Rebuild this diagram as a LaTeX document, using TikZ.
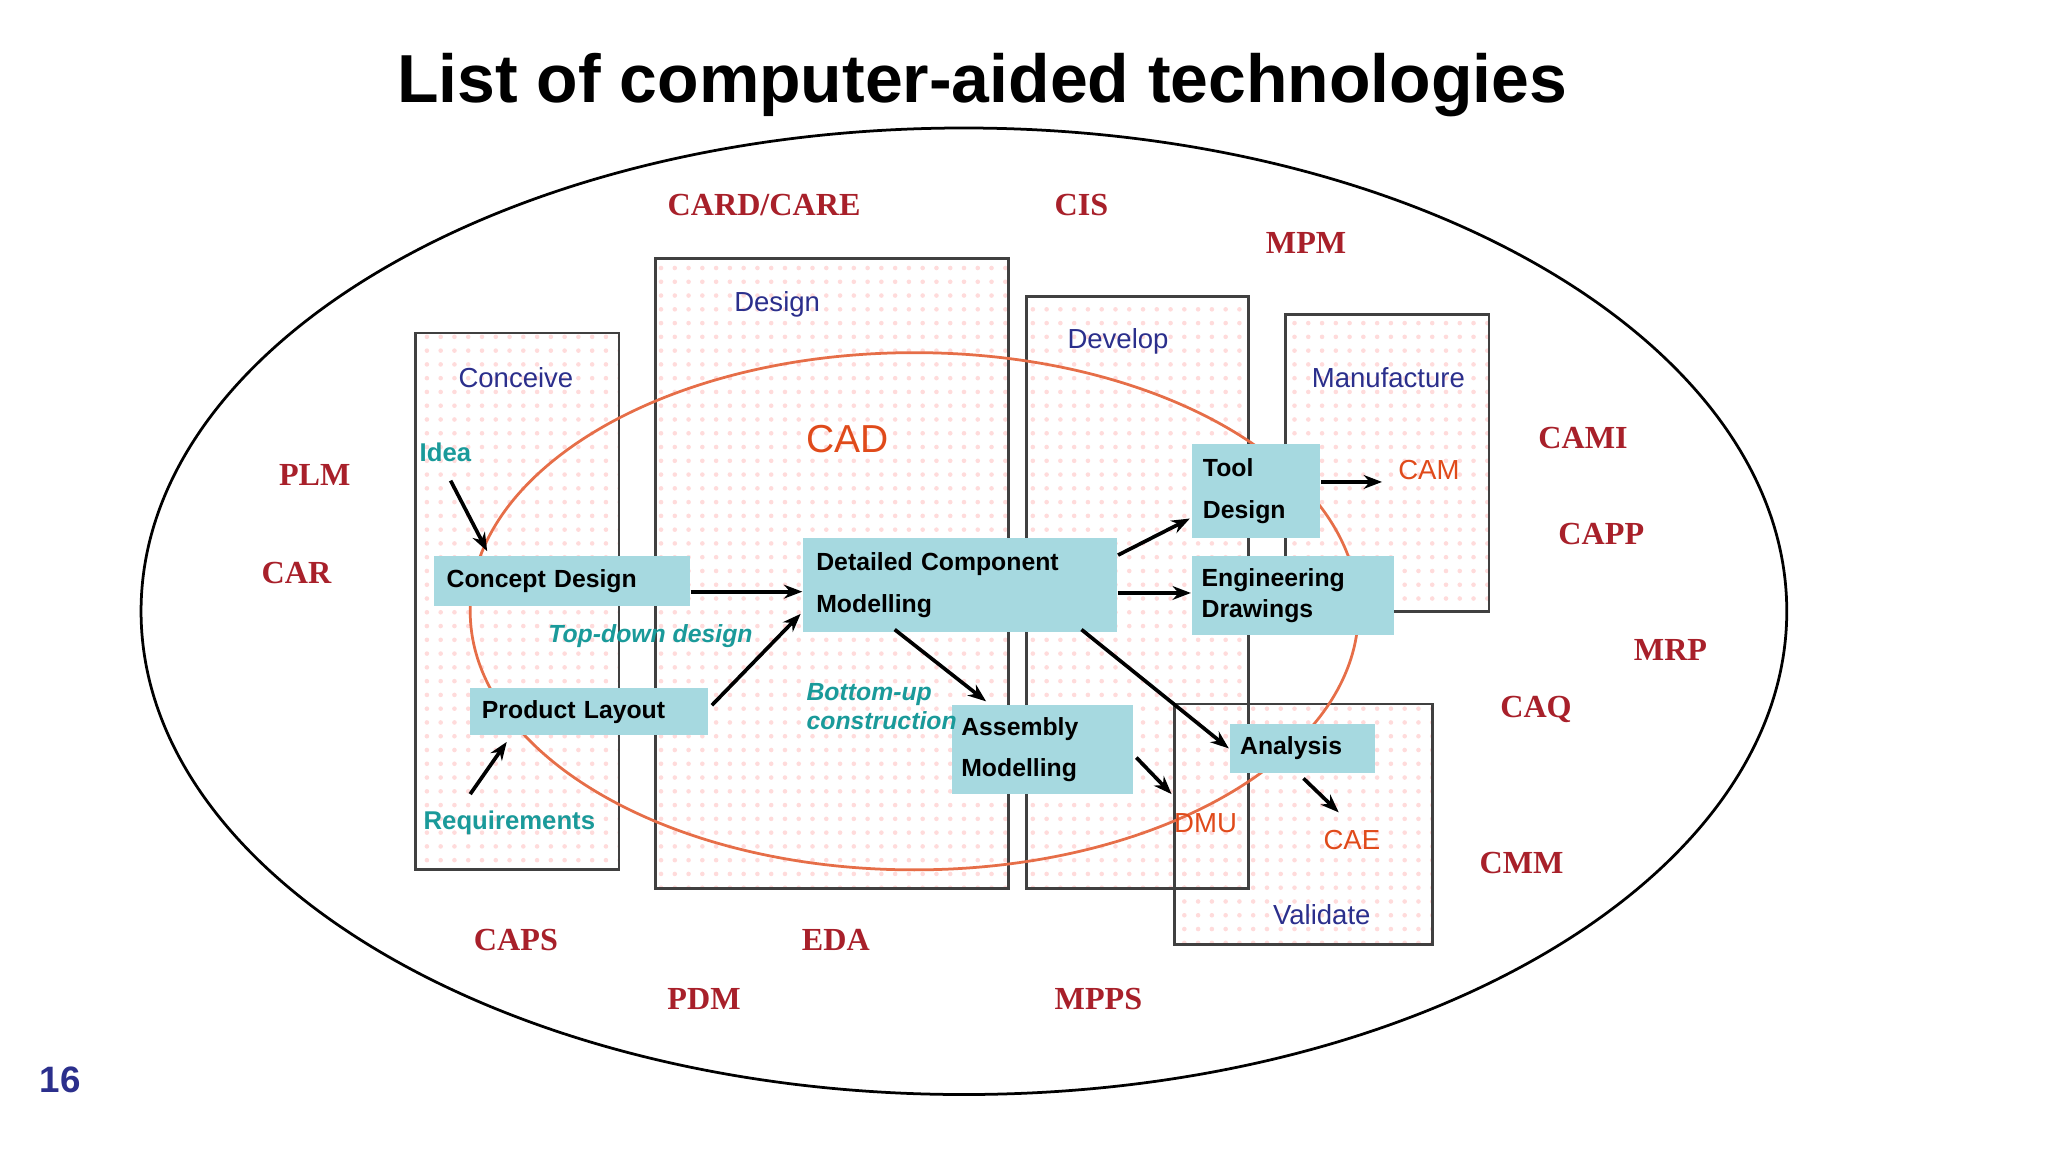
\documentclass[tikz,border=0pt]{standalone}
\usepackage{fontspec}
\setmainfont{Liberation Sans}
\newfontfamily\serifb{Liberation Serif}
\usetikzlibrary{patterns,arrows.meta}
\definecolor{acr}{HTML}{A8202A}
\definecolor{lbl}{HTML}{2B2F8C}
\definecolor{tealtxt}{HTML}{1A9A9A}
\definecolor{boxfill}{HTML}{A6D9E0}
\definecolor{cadred}{HTML}{E04A1A}
\tikzset{
 acro/.style={text=acr,font=\serifb\bfseries\fontsize{7}{8}\selectfont},
 stage/.style={draw=black!75,line width=0.6pt,pattern=dots,pattern color=red!14},
 stlbl/.style={text=lbl,font=\fontsize{6}{7}\selectfont},
 tbox/.style={fill=boxfill,font=\bfseries\fontsize{5.4}{9}\selectfont,align=left,inner sep=0pt},
 teal/.style={text=tealtxt,font=\bfseries\fontsize{5.6}{7}\selectfont},
 redt/.style={text=cadred,font=\fontsize{6}{7}\selectfont},
 arr/.style={-{Stealth[length=4pt]},line width=0.8pt},
}
\begin{document}
\begin{tikzpicture}[x=0.1mm,y=-0.1mm]
\useasboundingbox (0,0) rectangle (1568,880);
\fill[white] (0,0) rectangle (1568,880);
\node[font=\bfseries\fontsize{14.8}{16}\selectfont] (title) at (752,65) {List of computer-aided technologies};
\node[text=lbl,font=\bfseries\fontsize{8}{9}\selectfont] (pg) at (46,827) {16};
\draw[line width=0.6pt] (738,468) ellipse [x radius=630, y radius=370];
% stage boxes
\draw[stage] (318,255) rectangle (474,666);
\draw[stage] (502,198) rectangle (772,680);
\draw[stage] (899,539) rectangle (1097,723);
\draw[stage] (786,227) rectangle (956,680);
\draw[stage] (984,241) rectangle (1140,468);
\node[stlbl] (conceive) at (395,289) {Conceive};
\node[stlbl] (design) at (595,233) {Design};
\node[stlbl] (develop) at (856,261) {Develop};
\node[stlbl] (manuf) at (1063,289) {Manufacture};
\node[stlbl] (valid) at (1012,700) {Validate};
\draw[cadred!80,line width=0.6pt] (700,468) ellipse [x radius=340, y radius=198];
\node[redt,font=\fontsize{8.5}{10}\selectfont] (cad) at (649,336) {CAD};
% process boxes
\node[tbox,minimum width=196*0.1mm,minimum height=38*0.1mm,text width=176*0.1mm] (cd) at (430,445) {Concept Design};
\node[tbox,minimum width=182*0.1mm,minimum height=36*0.1mm,text width=164*0.1mm] (pl) at (451,545) {Product Layout};
\node[tbox,minimum width=240*0.1mm,minimum height=72*0.1mm,text width=220*0.1mm] (dcm) at (735,448) {Detailed Component\\Modelling};
\node[tbox,minimum width=98*0.1mm,minimum height=72*0.1mm,text width=82*0.1mm] (td) at (962,376) {Tool\\Design};
\node[tbox,minimum width=155*0.1mm,minimum height=60*0.1mm,text width=140*0.1mm,font=\bfseries\fontsize{5.4}{6.6}\selectfont] (ed) at (990,456) {Engineering\\Drawings};
\node[tbox,minimum width=139*0.1mm,minimum height=68*0.1mm,text width=124*0.1mm] (am) at (798,574) {Assembly\\Modelling};
\node[tbox,minimum width=111*0.1mm,minimum height=38*0.1mm,text width=95*0.1mm] (an) at (997,573) {Analysis};
% teal labels
\node[teal] (idea) at (341,346) {Idea};
\node[teal] (req) at (390,630) {Requirements};
\node[teal,font=\bfseries\itshape\fontsize{5.4}{7}\selectfont] (tdd) at (498,487) {Top-down design};
\node[teal,font=\bfseries\itshape\fontsize{5.4}{6.4}\selectfont,align=left] (buc) at (675,541) {Bottom-up\\construction};
\node[redt] (cam) at (1094,360) {CAM};
\node[redt] (dmu) at (923,630) {DMU};
\node[redt] (cae) at (1035,643) {CAE};
% arrow end points
\coordinate (ideaS) at (345,368);
\coordinate (cdN) at (373,422);
\coordinate (reqN) at (360,608);
\coordinate (plS) at (388,568);
\coordinate (plE) at (545,540);
\coordinate (dcmSW) at (613,470);
\coordinate (dcmNE) at (856,425);
\coordinate (tdW) at (911,397);
\coordinate (dcmS1) at (685,482);
\coordinate (amN) at (755,537);
\coordinate (dcmS2) at (828,482);
\coordinate (amE) at (870,580);
\coordinate (dmuN) at (897,608);
\coordinate (anS) at (998,596);
\coordinate (caeN) at (1025,622);
\draw[arr] (ideaS) -- (cdN);
\draw[arr] (reqN) -- (plS);
\draw[arr] (cd.east|-0,453) -- (dcm.west|-0,453);
\draw[arr] (plE) -- (dcmSW);
\draw[arr] (dcmNE) -- (tdW);
\draw[arr] (dcm.east|-0,454) -- (ed.west|-0,454);
\draw[arr] (dcmS1) -- (amN);
\draw[arr] (dcmS2) -- (an.west);
\draw[arr] (td.east|-0,369) -- (cam.west|-0,369);
\draw[arr] (amE) -- (dmuN);
\draw[arr] (anS) -- (caeN);
% acronyms
\node[acro] (card) at (585,157) {CARD/CARE};
\node[acro] (cis) at (828,157) {CIS};
\node[acro] (mpm) at (1000,186) {MPM};
\node[acro] (cami) at (1212,335) {CAMI};
\node[acro] (capp) at (1226,409) {CAPP};
\node[acro] (mrp) at (1279,498) {MRP};
\node[acro] (caq) at (1176,543) {CAQ};
\node[acro] (cmm) at (1165,661) {CMM};
\node[acro] (plm) at (241,364) {PLM};
\node[acro] (car) at (227,439) {CAR};
\node[acro] (caps) at (395,720) {CAPS};
\node[acro] (eda) at (640,720) {EDA};
\node[acro] (pdm) at (539,765) {PDM};
\node[acro] (mpps) at (841,765) {MPPS};
\end{tikzpicture}
\end{document}
